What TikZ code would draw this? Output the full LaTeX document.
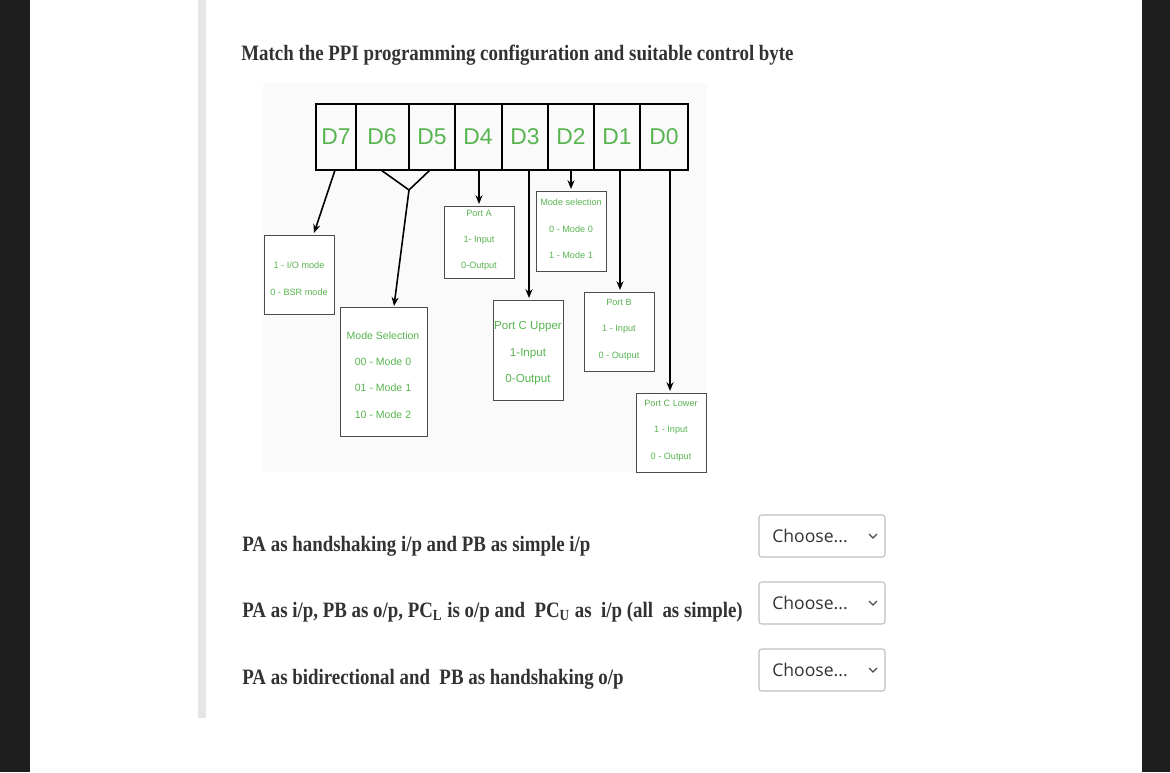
\documentclass[tikz,border=0pt]{standalone}
\usepackage{fontspec}
\usetikzlibrary{arrows.meta}
\setmainfont{Liberation Serif}
\setsansfont{Liberation Sans}
\newfontfamily\uifont{Open Sans}
\newfontfamily\qfont[FakeStretch=0.86]{Liberation Serif}
\definecolor{gr}{RGB}{88,180,80}
\definecolor{dark}{RGB}{30,30,30}
\definecolor{qtxt}{RGB}{50,50,50}
\begin{document}
\begin{tikzpicture}[x=0.02cm,y=-0.02cm,
  bx/.style={draw=black!70,line width=0.5pt,fill=white},
  gt/.style={text=gr,font=\sffamily\fontsize{5.2}{6}\selectfont,inner sep=0},
  gtb/.style={text=gr,font=\sffamily\fontsize{6.6}{8}\selectfont,inner sep=0},
  ar/.style={-{Stealth[length=5pt,width=4pt]},line width=0.9pt},
  qt/.style={anchor=west,text=qtxt,font=\qfont\fontsize{12.5}{14}\selectfont\bfseries,inner sep=0},
  dd/.style={draw=black!25,fill=white,rounded corners=1.5pt,line width=0.6pt}]
\useasboundingbox (0,0) rectangle (1170,772);
\fill[dark] (0,0) rectangle (30,772);
\fill[dark] (1142,0) rectangle (1170,772);
\fill[black!10] (198,0) rectangle (206,718);
\fill[black!2] (263,83) rectangle (707,472);
\node[qt] (title) at (241,55) {Match the PPI programming configuration and suitable control byte};
% register
\draw[line width=1.6pt] (316,104) rectangle (688,170);
\foreach \x in {356,409,455,502,548,594,640} \draw[line width=1.2pt] (\x,104) -- (\x,170);
\foreach \x/\t in {336/D7,382/D6,432/D5,478/D4,525/D3,571/D2,617/D1,664/D0}
  \node[text=gr,font=\sffamily\fontsize{13}{15}\selectfont] (\t) at (\x,137) {\t};
% boxes
\draw[bx] (264,235) rectangle (334,314);
\node[gt] (io1) at (299,265) {1 - I/O mode};
\node[gt] (io2) at (299,292) {0 - BSR mode};
\draw[bx] (340,307) rectangle (427,436);
\node[gt,font=\sffamily\fontsize{6}{7}\selectfont] (ms1) at (383,336) {Mode Selection};
\node[gt,font=\sffamily\fontsize{6}{7}\selectfont] (ms2) at (383,362) {00 - Mode 0};
\node[gt,font=\sffamily\fontsize{6}{7}\selectfont] (ms3) at (383,388) {01 - Mode 1};
\node[gt,font=\sffamily\fontsize{6}{7}\selectfont] (ms4) at (383,415) {10 - Mode 2};
\draw[bx] (444,206) rectangle (514,278);
\node[gt] (pa1) at (479,213) {Port A};
\node[gt] (pa2) at (479,240) {1- Input};
\node[gt] (pa3) at (479,266) {0-Output};
\draw[bx] (536,191) rectangle (606,271);
\node[gt] (m1) at (571,202) {Mode selection};
\node[gt] (m2) at (571,229) {0 - Mode 0};
\node[gt] (m3) at (571,255) {1 - Mode 1};
\draw[bx] (493,300) rectangle (563,400);
\node[gtb] (cu1) at (528,327) {Port C Upper};
\node[gtb] (cu2) at (528,354) {1-Input};
\node[gtb] (cu3) at (528,380) {0-Output};
\draw[bx] (584,292) rectangle (654,371);
\node[gt] (pb1) at (619,302) {Port B};
\node[gt] (pb2) at (619,329) {1 - Input};
\node[gt] (pb3) at (619,356) {0 - Output};
\draw[bx] (636,393) rectangle (706,472);
\node[gt] (cl1) at (671,403) {Port C Lower};
\node[gt] (cl2) at (671,430) {1 - Input};
\node[gt] (cl3) at (671,457) {0 - Output};
% arrows
\coordinate (j) at (409,190);
\draw[ar] (335,170) -- (314,233);
\draw[line width=0.9pt] (381,170) -- (j) -- (430,170);
\draw[ar] (j) -- (394,306);
\draw[ar] (479,170) -- (479,204);
\draw[ar] (571,170) -- (571,189);
\draw[ar] (529,170) -- (529,298);
\draw[ar] (620,170) -- (620,290);
\draw[ar] (670,170) -- (670,391);
% questions
\node[qt] (q1) at (242,546) {PA as handshaking i/p and PB as simple i/p};
\node[qt] (q2) at (242,612) {PA as i/p, PB as o/p, PC\textsubscript{L} is o/p and \ PC\textsubscript{U} as \ i/p (all \ as simple)};
\node[qt] (q3) at (242,679) {PA as bidirectional and \ PB as handshaking o/p};
\foreach \y/\n in {515/1,582/2,649/3}{
  \draw[dd] (759,\y) rectangle (885,\y+42);
  \node[anchor=west,inner sep=0,text=black!80,font=\uifont\fontsize{10}{12}\selectfont] (c\n) at (772,\y+21) {Choose...};
  \draw[black!70,line width=0.7pt] (869,\y+19) -- (873,\y+23) -- (877,\y+19);
}
\end{tikzpicture}
\end{document}
